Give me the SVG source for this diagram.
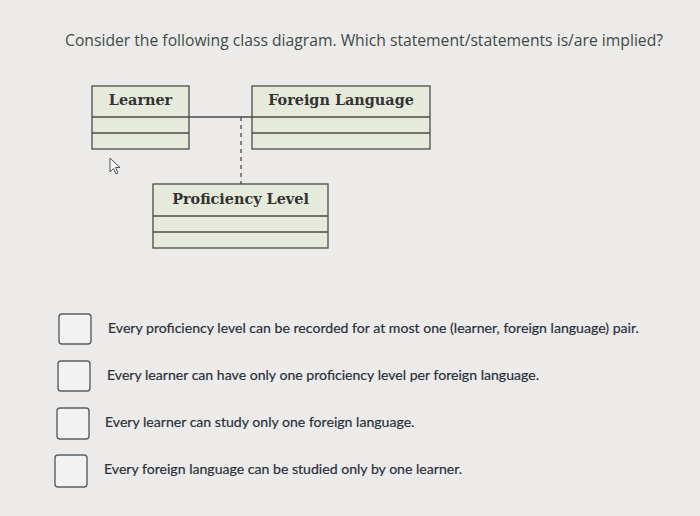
<svg xmlns="http://www.w3.org/2000/svg" width="700" height="516" viewBox="0 0 700 516">
<style>
.bg{fill:#ecebea}
.cls{fill:#e6eadb;stroke:#4a4a4a;stroke-width:1.3}
.div{stroke:#4a4a4a;stroke-width:1.3}
.cname{font-family:"DejaVu Serif","Liberation Serif",serif;font-weight:bold;font-size:14.4px;fill:#333;text-anchor:middle}
.title{font-family:"Open Sans","Liberation Sans",sans-serif;font-size:15.7px;fill:#3d4a46}
.opt{font-family:Lato,"Liberation Sans",sans-serif;font-size:14.1px;fill:#2a303a;stroke:#2a303a;stroke-width:0.2}
.box{fill:#f2f2f2;stroke:#5a5f63;stroke-width:1.4}
.assoc{stroke:#4a4a4a;stroke-width:1.3;fill:none}
</style>
<rect class="bg" x="0" y="0" width="700" height="516"/>
<text class="title" x="65" y="46">Consider the following class diagram. Which statement/statements is/are implied?</text>

<g id="connectors">
<line class="assoc" x1="189" y1="117" x2="252" y2="117"/>
<line class="assoc" x1="241" y1="117" x2="241" y2="184" stroke-dasharray="4,4"/>
</g>

<g id="learner">
<rect class="cls" x="92" y="86" width="97" height="63"/>
<line class="div" x1="92" y1="117" x2="189" y2="117"/>
<line class="div" x1="92" y1="133" x2="189" y2="133"/>
<text class="cname" x="140.5" y="105">Learner</text>
</g>

<g id="foreign-language">
<rect class="cls" x="252" y="86" width="178" height="63"/>
<line class="div" x1="252" y1="117" x2="430" y2="117"/>
<line class="div" x1="252" y1="133" x2="430" y2="133"/>
<text class="cname" x="341" y="105">Foreign Language</text>
</g>

<g id="proficiency-level">
<rect class="cls" x="153" y="184" width="175" height="64"/>
<line class="div" x1="153" y1="216" x2="328" y2="216"/>
<line class="div" x1="153" y1="232" x2="328" y2="232"/>
<text class="cname" x="240.5" y="204">Proficiency Level</text>
</g>

<path d="M110 158 L110 172 L113.5 168.5 L116 174 L118 173 L115.5 167.5 L120 167.5 Z" fill="#f4f4f4" stroke="#555" stroke-width="1"/>

<g id="options">
<rect class="box" x="59" y="314" width="32" height="30" rx="3"/>
<text class="opt" x="108" y="333">Every proficiency level can be recorded for at most one (learner, foreign language) pair.</text>
<rect class="box" x="58" y="361" width="32" height="30" rx="3"/>
<text class="opt" x="107" y="380">Every learner can have only one proficiency level per foreign language.</text>
<rect class="box" x="57" y="408" width="32" height="31" rx="3"/>
<text class="opt" x="105" y="427">Every learner can study only one foreign language.</text>
<rect class="box" x="55" y="455" width="32" height="32" rx="3"/>
<text class="opt" x="104" y="474">Every foreign language can be studied only by one learner.</text>
</g>
</svg>
